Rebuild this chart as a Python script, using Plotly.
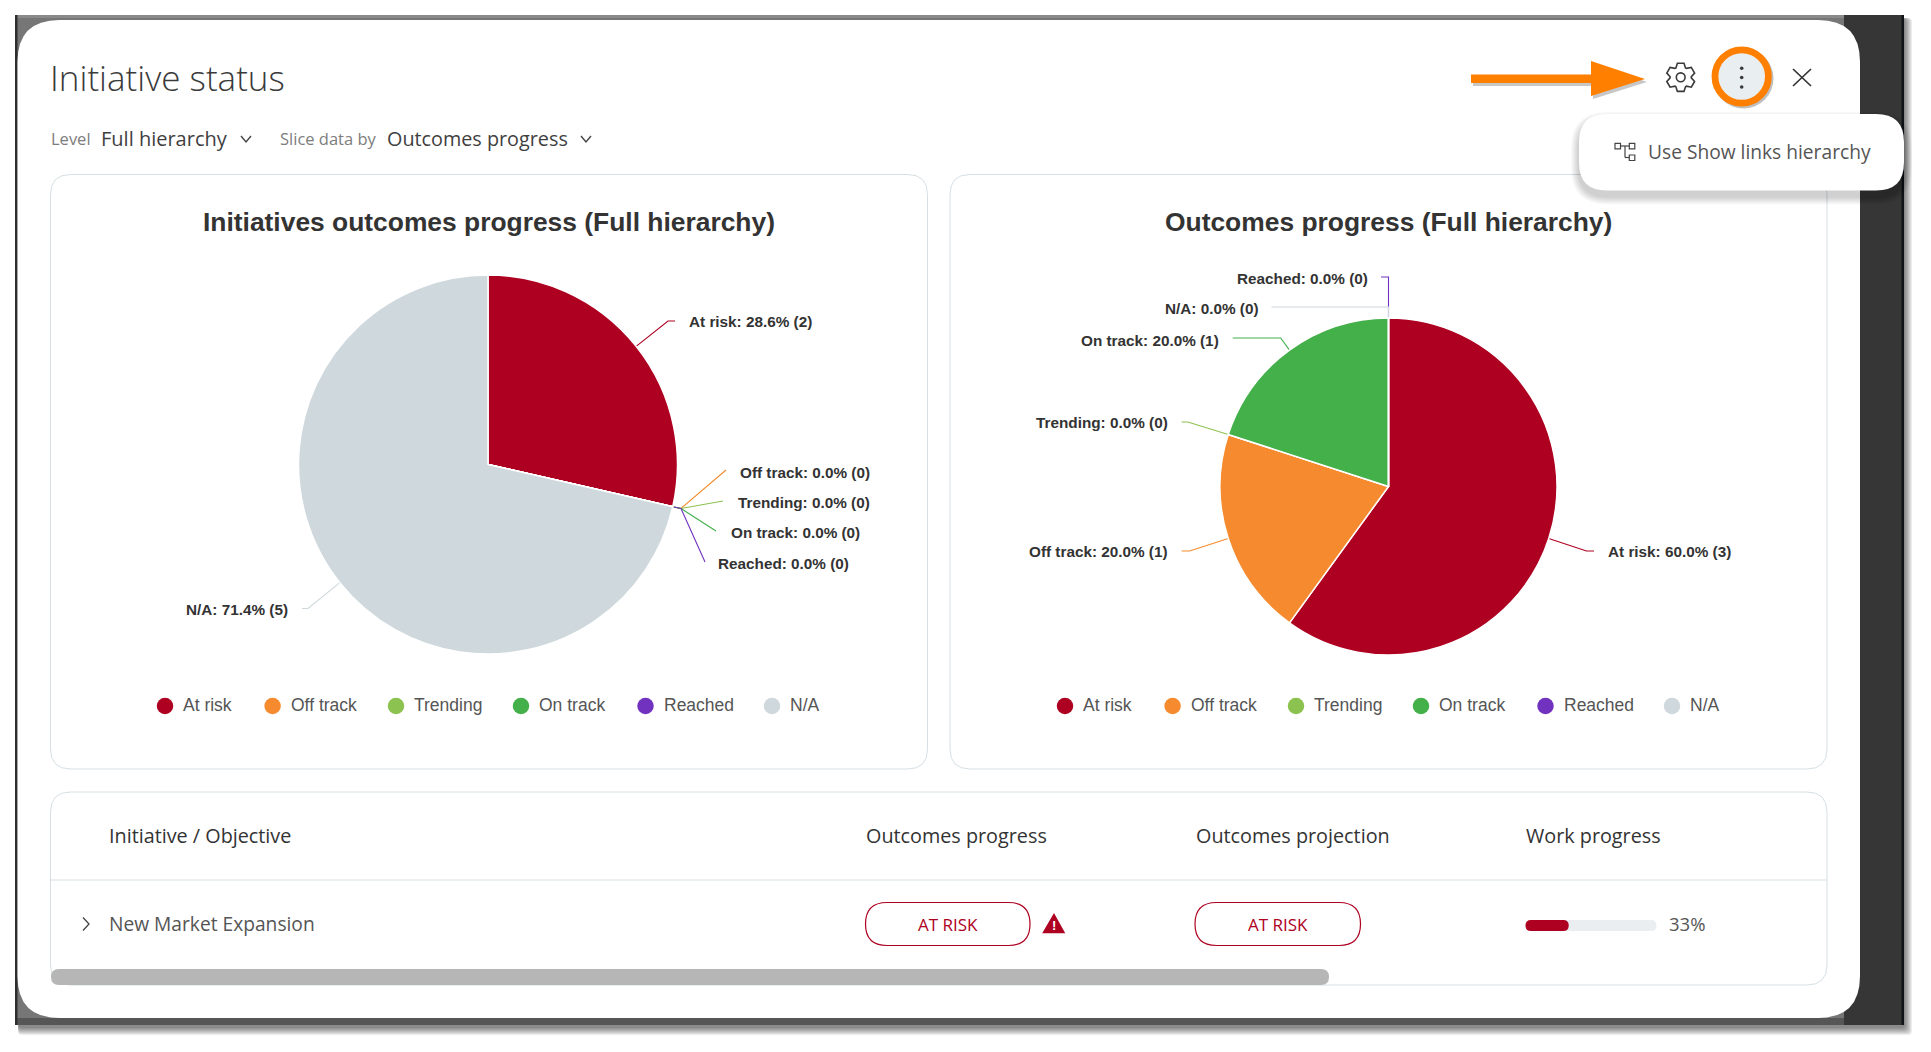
import numpy as np
import plotly.graph_objects as go

# ---------- data ----------
categories = ["At risk", "Off track", "Trending", "On track", "Reached", "N/A"]
initiative_counts = [2, 0, 0, 0, 0, 5]
outcome_counts = [3, 1, 0, 1, 0, 0]
table_columns = ["Initiative / Objective", "Outcomes progress", "Outcomes projection", "Work progress"]
row_name = "New Market Expansion"
row_status = ["AT RISK", "AT RISK"]
row_work_progress = 33

# ---------- style / layout ----------
W, H = 1931, 1052
colors = ["#ae0021", "#f58b2e", "#8cc24f", "#43b04a", "#7132bf", "#cfd8dc"]
GREY_TEXT, DARK_TEXT, TITLE_TEXT = "#7d7d7d", "#3f3f3f", "#333333"
UI, CHART = "Open Sans", "Liberation Sans"
ORANGE = "#ff7f00"
LINE = "#d6dfe3"
LEGEND_OFFSETS = [-324, -216.4, -93, 32, 156.5, 283]

pies = [
    dict(counts=initiative_counts, cx=488, cy=464.5, r=189.5, legend_cx=489,
         title="Initiatives outcomes progress (Full hierarchy)",
         # per category: leader-line waypoints after the slice edge, label x, anchor, label y
         labels=[
             ([(668, 321), (675, 321)], 689, "left", 323),
             ([(681, 508.5), (726, 470)], 740, "left", 474),
             ([(681, 508.5), (723, 501)], 738, "left", 504),
             ([(681, 508.5), (716, 531)], 730.5, "left", 534),
             ([(681, 508.5), (705, 562)], 718, "left", 565),
             ([(308, 608.5), (302, 608.5)], 288, "right", 611),
         ]),
    dict(counts=outcome_counts, cx=1388.5, cy=486.5, r=168.5, legend_cx=1389,
         title="Outcomes progress (Full hierarchy)",
         labels=[
             ([(1586.5, 551), (1594, 551)], 1608, "left", 552.5),
             ([(1189.6, 551), (1181.6, 551)], 1168, "right", 552.5),
             ([(1187.8, 422), (1181.6, 422)], 1168, "right", 424),
             ([(1280.7, 338), (1232.7, 338)], 1219, "right", 341.5),
             ([(1388.5, 277), (1381, 277)], 1368, "right", 279.5),
             ([(1388.5, 307), (1271.5, 307)], 1259, "right", 309.5),
         ]),
]

shapes, annotations = [], []


def rrect(x0, y0, x1, y1, r):
    return (f"M{x0+r},{y0} L{x1-r},{y0} Q{x1},{y0} {x1},{y0+r} L{x1},{y1-r} Q{x1},{y1} {x1-r},{y1} "
            f"L{x0+r},{y1} Q{x0},{y1} {x0},{y1-r} L{x0},{y0+r} Q{x0},{y0} {x0+r},{y0} Z")


def path(d, fill="rgba(0,0,0,0)", line=None, width=0):
    shapes.append(dict(type="path", path=d, xref="x", yref="y", layer="below", fillcolor=fill,
                       line=dict(color=line or "rgba(0,0,0,0)", width=width)))


def rect(x0, y0, x1, y1, fill):
    shapes.append(dict(type="rect", x0=x0, y0=y0, x1=x1, y1=y1, xref="x", yref="y", layer="below",
                       fillcolor=fill, line=dict(width=0)))


def circle(cx, cy, r, fill="rgba(0,0,0,0)", line=None, width=0):
    shapes.append(dict(type="circle", x0=cx-r, y0=cy-r, x1=cx+r, y1=cy+r, xref="x", yref="y", layer="below",
                       fillcolor=fill, line=dict(color=line or "rgba(0,0,0,0)", width=width)))


def seg(x0, y0, x1, y1, color, width):
    shapes.append(dict(type="line", x0=x0, y0=y0, x1=x1, y1=y1, xref="x", yref="y", layer="below",
                       line=dict(color=color, width=width)))


def text(x, y, s, size, color, family=UI, anchor="left", weight=None):
    font = dict(family=family, size=size, color=color)
    if weight:
        font["weight"] = weight
    annotations.append(dict(x=x, y=y, xref="x", yref="y", text=s, showarrow=False, xanchor=anchor,
                            yanchor="middle", font=font, borderpad=0, borderwidth=0))


def chevron_down(cx, cy):
    path(f"M{cx-5},{cy-3} L{cx},{cy+3} L{cx+5},{cy-3}", line="#444444", width=1.4)


# ---------- frame (darkened page behind the dialog) ----------
for i in range(8, 0, -1):
    path(rrect(15 + 3, 15 + 3, 1904 + i, 1025 + i + 2, 4), fill="rgba(0,0,0,0.07)")
rect(15, 15, 1904, 1025, "#767676")
rect(15, 15, 1904, 18, "#8a8a8a")
rect(15, 1018, 1904, 1025, "#565656")
rect(15, 15, 17.5, 1025, "#2e2e2e")
rect(1844, 15, 1904, 1025, "#363636")
rect(1901.5, 15, 1904, 1025, "#101418")
path(rrect(17.5, 20, 1860, 1018, 42), fill="#ffffff")

# ---------- cards ----------
path(rrect(50.5, 174.5, 927.5, 769, 20), fill="#ffffff", line=LINE, width=1)
path(rrect(950, 174.5, 1827, 769, 20), fill="#ffffff", line=LINE, width=1)
path(rrect(50.5, 792, 1827, 985, 20), fill="#ffffff", line=LINE, width=1)
seg(50.5, 880, 1827, 880, LINE, 1)

# ---------- header ----------
text(50, 77, "Initiative status", 35, "#3a3a3a", weight=300)
text(50.5, 138.5, "Level", 16.5, GREY_TEXT)
text(101, 138, "Full hierarchy", 20, DARK_TEXT)
chevron_down(246, 139)
text(280, 138.5, "Slice data by", 16.5, GREY_TEXT)
text(387, 138, "Outcomes progress", 19.8, DARK_TEXT)
chevron_down(586, 139)

# arrow
arrow = "M{0},{2} L{1},{2} L{1},{4} L{5},{6} L{1},{7} L{1},{3} L{0},{3} Z"
path(arrow.format(1473, 1593, 77, 86, 63, 1647, 82, 99), fill="rgba(0,0,0,0.22)")
path(arrow.format(1471, 1591, 74.5, 83, 61, 1645, 79, 96), fill=ORANGE)

# gear
gcx, gcy = 1680.7, 77.3
tooth = []
for k in range(6):
    a = np.deg2rad(60 * k)
    for da, rad in [(-27, 10.6), (-13, 14.5), (13, 14.5), (27, 10.6)]:
        t = a + np.deg2rad(da)
        tooth.append((gcx + rad * np.sin(t), gcy - rad * np.cos(t)))
path("M" + " L".join(f"{x:.1f},{y:.1f}" for x, y in tooth) + " Z", line="#3a3a3a", width=1.6)
circle(gcx, gcy, 4.4, line="#3a3a3a", width=1.6)

# ring with the three dots
circle(1743.5, 78.5, 30, fill="rgba(0,0,0,0.25)")
circle(1741.7, 76.5, 26.7, fill="#e9eef1", line=ORANGE, width=6.8)
for yy in (68.3, 77.5, 87):
    circle(1741.7, yy, 1.8, fill="#3a3a3a")

# close
seg(1793, 69, 1811, 86, "#333333", 1.7)
seg(1811, 69, 1793, 86, "#333333", 1.7)

# popup
for i in range(8, 0, -1):
    path(rrect(1579 - i, 114 + 6 - i, 1904 + i, 190.6 + 6 + i, 28 + i), fill="rgba(0,0,0,0.022)")
path(rrect(1579, 114, 1904, 190.6, 28), fill="#ffffff")
for bx0, by0 in [(1615, 143.3), (1629.3, 143.3), (1629.3, 155)]:
    rx = dict(type="rect", x0=bx0, y0=by0, x1=bx0 + 5.5, y1=by0 + 5.5, xref="x", yref="y", layer="below",
              fillcolor="#ffffff", line=dict(color="#444444", width=1.2))
    shapes.append(rx)
seg(1620.5, 146, 1629.3, 146, "#444444", 1.2)
seg(1625, 146, 1625, 157.5, "#444444", 1.2)
seg(1625, 157.5, 1629.3, 157.5, "#444444", 1.2)
text(1648, 151.5, "Use Show links hierarchy", 19.2, "#555555")

# ---------- pies ----------
data = []
for pie in pies:
    cx, cy, r, lcx = pie["cx"], pie["cy"], pie["r"], pie["legend_cx"]
    data.append(go.Pie(
        labels=categories, values=pie["counts"], sort=False, direction="clockwise", rotation=0,
        marker=dict(colors=colors, line=dict(color="#ffffff", width=1.5)),
        textinfo="none", hoverinfo="label+percent", showlegend=False,
        domain=dict(x=[(cx - r) / W, (cx + r) / W], y=[1 - (cy + r) / H, 1 - (cy - r) / H]),
    ))
    text(lcx - 0.5, 222, pie["title"], 26.4, TITLE_TEXT, family=CHART, anchor="center", weight=700)

    total = sum(pie["counts"])
    cum = 0
    for name, value, color, (way, lx, anchor, ly), off in zip(
            categories, pie["counts"], colors, pie["labels"], LEGEND_OFFSETS):
        angle = 2 * np.pi * (cum + value / 2) / total
        cum += value
        edge = (cx + r * np.sin(angle), cy - r * np.cos(angle))
        pts = [edge] + way
        data.append(go.Scatter(x=[p[0] for p in pts], y=[p[1] for p in pts], mode="lines",
                               line=dict(color=color, width=1.1), hoverinfo="skip", showlegend=False))
        text(lx, ly - 1.5, f"{name}: {100 * value / total:.1f}% ({value})", 15.3, TITLE_TEXT,
             family=CHART, anchor=anchor, weight=700)
        text(lcx + off + 18, 705.3, name, 17.5, "#555555", family=CHART)
    data.append(go.Scatter(x=[lcx + o for o in LEGEND_OFFSETS], y=[706] * 6, mode="markers",
                           marker=dict(size=16.5, color=colors, line=dict(width=0)),
                           hoverinfo="skip", showlegend=False))

# ---------- table ----------
for col, x in zip(table_columns, [109, 866, 1196, 1526]):
    text(x, 835, col, 19.8, "#333333", weight=500)
path("M83,917.5 L89,924 L83,930.5", line="#444444", width=1.3)
text(109, 923, row_name, 19.2, "#555555")
for (x0, x1), status in zip([(865.5, 1030), (1195, 1360.5)], row_status):
    path(rrect(x0, 902.5, x1, 945.5, 21.5), fill="#ffffff", line=colors[0], width=1.2)
    text((x0 + x1) / 2, 924, status, 17, colors[0], anchor="center", weight=500)
path("M1054,914.5 L1064,932.5 L1043.5,932.5 Z", fill=colors[0], line=colors[0], width=1.5)
text(1054, 925, "!", 13, "#ffffff", family=CHART, anchor="center", weight=700)

bar_x0, bar_x1 = 1525.5, 1656.5
path(rrect(bar_x0, 920, bar_x1, 931, 5.5), fill="#eaeef1")
path(rrect(bar_x0, 920, bar_x0 + (bar_x1 - bar_x0) * row_work_progress / 100, 931, 5.5), fill=colors[0])
text(1669, 923, f"{row_work_progress}%", 18.5, "#555555")

# scrollbar
path(rrect(51, 969, 1329, 985, 8), fill="#b6b6b6")

fig = go.Figure(data=data)
fig.update_layout(
    width=W, height=H, margin=dict(l=0, r=0, t=0, b=0), paper_bgcolor="#ffffff", plot_bgcolor="rgba(0,0,0,0)",
    xaxis=dict(range=[0, W], visible=False, fixedrange=True, domain=[0, 1]),
    yaxis=dict(range=[H, 0], visible=False, fixedrange=True, domain=[0, 1]),
    shapes=shapes, annotations=annotations, showlegend=False,
)
fig.write_html("out.html", config={"displayModeBar": False},
               post_script="document.body.style.margin='0';document.body.style.overflow='hidden';")
